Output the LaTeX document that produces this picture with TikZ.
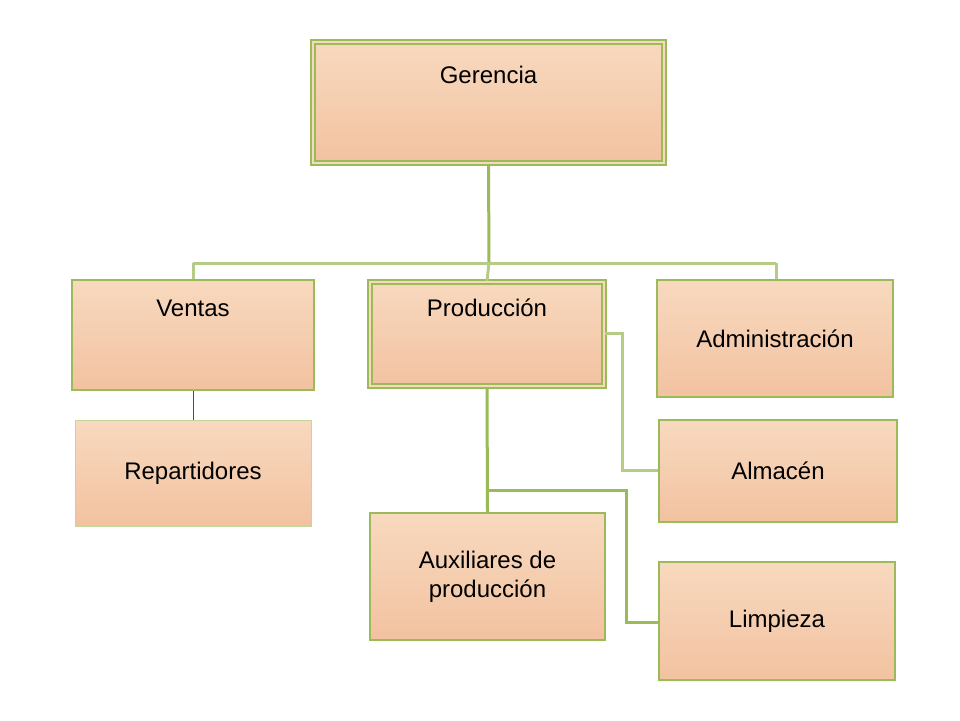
\documentclass[tikz,border=0pt]{standalone}
\usepackage{fontspec}
\setmainfont{Liberation Sans}
\definecolor{peachT}{HTML}{F8D9BF}
\definecolor{peachB}{HTML}{F2C2A0}
\definecolor{olive}{HTML}{9BBB59}
\definecolor{oliveD}{HTML}{7F9A44}
\definecolor{lineL}{HTML}{B6CB86}
\begin{document}
\begin{tikzpicture}[x=1pt,y=-1pt,
  box/.style={draw=olive,line width=2.5pt,top color=peachT,bottom color=peachB,inner sep=0pt,
    font=\fontsize{24}{29}\selectfont,align=center},
  dbox/.style={box,double=peachT,double distance=2pt,draw=olive,line width=2pt},
  lbox/.style={box,draw=olive!60,line width=1pt},
  conn/.style={draw=olive,line width=3pt},
  connL/.style={draw=lineL,line width=3pt}]
\useasboundingbox (0,0) rectangle (960,720);
\def\bx#1#2#3#4#5#6#7{\node[#1,minimum width={#4-#2},minimum height={#5-#3}] (#6) at ({(#2+#4)/2},{(#3+#5)/2}) {#7};}
\bx{dbox}{313}{42}{664}{163}{ger}{Gerencia\\[26pt]}
\bx{box}{72}{280}{314}{390}{ven}{Ventas\\[24pt]}
\bx{dbox}{370}{282}{604}{386}{pro}{Producción\\[24pt]}
\bx{box}{657}{280}{893}{397}{adm}{Administración}
\bx{lbox}{75}{420}{311}{526}{rep}{Repartidores}
\bx{box}{659}{420}{897}{522}{alm}{Almacén}
\bx{box}{370}{513}{605}{640}{aux}{Auxiliares de\\producción}
\bx{box}{659}{562}{895}{680}{lim}{Limpieza}
\coordinate (hL) at (193,263);
\coordinate (hR) at (776,263);
\coordinate (hM) at (489,263);
\draw[conn] (ger.south) -- (hM);
\draw[connL] (hL) -- (hR);
\draw[connL] (hL) -- (ven.north -| hL);
\draw[connL] (hM) -- (pro.north);
\draw[connL] (hR) -- (adm.north -| hR);
\draw[black!70,line width=1pt] (ven.south -| hL) -- (rep.north -| hL);
\coordinate (pa) at (622,333);
\draw[connL] (pro.east |- pa) -- (pa) -- (622,470) -- (alm.west |- 622,470);
\coordinate (pm) at (489,490);
\draw[conn] (pro.south) -- (aux.north);
\draw[conn] (pm) -- (626,490) -- (626,622) -- (lim.west |- 626,622);
\end{tikzpicture}
\end{document}
